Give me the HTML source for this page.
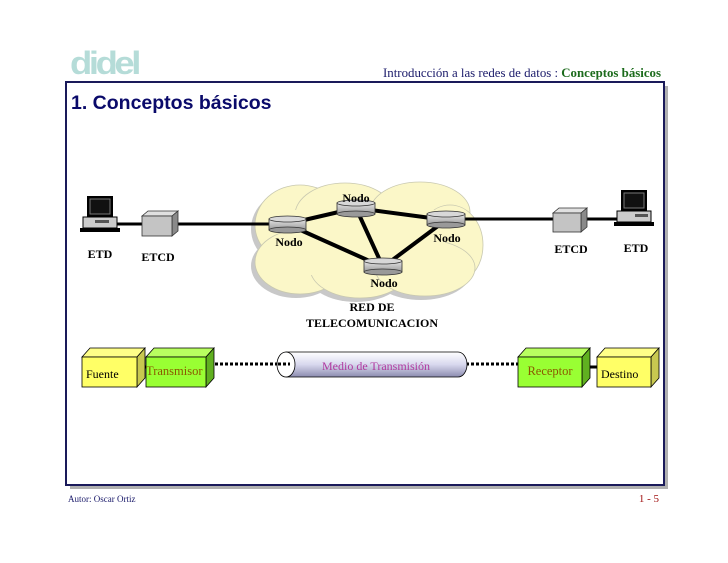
<!DOCTYPE html>
<html><head><meta charset="utf-8"><style>
html,body{margin:0;padding:0;background:#fff;}
svg{display:block;}
</style></head><body>
<svg width="728" height="563" viewBox="0 0 728 563" xmlns="http://www.w3.org/2000/svg">
<defs>
<linearGradient id="cyl" x1="0" y1="0" x2="0" y2="1"><stop offset="0" stop-color="#e6e6e6"/><stop offset="1" stop-color="#9a9a9a"/></linearGradient>
<linearGradient id="tube" x1="0" y1="0" x2="0" y2="1"><stop offset="0" stop-color="#ffffff"/><stop offset="0.5" stop-color="#d8d8ee"/><stop offset="1" stop-color="#8c8cb0"/></linearGradient>
</defs>
<text x="70" y="74" font-family="Liberation Sans, sans-serif" font-size="32" font-weight="bold" fill="#b5dcd8" letter-spacing="-3" textLength="68" lengthAdjust="spacingAndGlyphs">didel</text>
<text x="661" y="77" text-anchor="end" font-family="Liberation Serif, serif" font-size="12.5" fill="#1a1a6a" textLength="278" lengthAdjust="spacingAndGlyphs">Introducción a las redes de datos : <tspan fill="#1c6b1c" font-weight="bold">Conceptos básicos</tspan></text>
<rect x="70" y="86" width="598" height="403" fill="#b0b0b0"/>
<rect x="66" y="82" width="598" height="403" fill="#fff" stroke="#1a1a5a" stroke-width="2"/>
<text x="71" y="109" font-family="Liberation Sans, sans-serif" font-size="19.5" font-weight="bold" fill="#0a0a6a">1. Conceptos básicos</text>

<g fill="#c8c8c8" transform="translate(-4,4)">
<ellipse cx="300" cy="225" rx="45" ry="40"/><ellipse cx="345" cy="215" rx="50" ry="32"/><ellipse cx="420" cy="212" rx="50" ry="30"/><ellipse cx="450" cy="245" rx="33" ry="40"/><ellipse cx="300" cy="262" rx="45" ry="32"/><ellipse cx="360" cy="268" rx="50" ry="30"/><ellipse cx="425" cy="268" rx="50" ry="28"/><rect x="290" y="215" width="150" height="60"/>
</g>
<g fill="#fbf7c8" stroke="#c8c8b0" stroke-width="0.8">
<ellipse cx="300" cy="225" rx="45" ry="40"/><ellipse cx="345" cy="215" rx="50" ry="32"/><ellipse cx="420" cy="212" rx="50" ry="30"/><ellipse cx="450" cy="245" rx="33" ry="40"/><ellipse cx="300" cy="262" rx="45" ry="32"/><ellipse cx="360" cy="268" rx="50" ry="30"/><ellipse cx="425" cy="268" rx="50" ry="28"/>
</g>
<rect x="290" y="210" width="155" height="65" fill="#fbf7c8"/>

<line x1="100" y1="224" x2="287" y2="224" stroke="#000" stroke-width="3"/>
<line x1="446" y1="219" x2="630" y2="219" stroke="#000" stroke-width="3"/>
<g stroke="#000" stroke-width="4">
<line x1="287" y1="224" x2="356" y2="208"/>
<line x1="287" y1="224" x2="383" y2="267"/>
<line x1="356" y1="208" x2="446" y2="220"/>
<line x1="356" y1="208" x2="383" y2="267"/>
<line x1="383" y1="267" x2="446" y2="220"/>
</g>
<g stroke="#333" stroke-width="0.8">
<g><rect x="269" y="219" width="37" height="11" fill="url(#cyl)"/><ellipse cx="287.5" cy="230" rx="18.5" ry="3" fill="#999"/><ellipse cx="287.5" cy="219" rx="18.5" ry="3" fill="#d8d8d8"/></g>
<g><rect x="337" y="203" width="38" height="11" fill="url(#cyl)"/><ellipse cx="356" cy="214" rx="19" ry="3" fill="#999"/><ellipse cx="356" cy="203" rx="19" ry="3" fill="#d8d8d8"/></g>
<g><rect x="427" y="214" width="38" height="11" fill="url(#cyl)"/><ellipse cx="446" cy="225" rx="19" ry="3" fill="#999"/><ellipse cx="446" cy="214" rx="19" ry="3" fill="#d8d8d8"/></g>
<g><rect x="364" y="261" width="38" height="11" fill="url(#cyl)"/><ellipse cx="383" cy="272" rx="19" ry="3" fill="#999"/><ellipse cx="383" cy="261" rx="19" ry="3" fill="#d8d8d8"/></g>
</g>
<g font-family="Liberation Serif, serif" font-size="12" font-weight="bold" fill="#000" text-anchor="middle">
<text x="356" y="202">Nodo</text>
<text x="289" y="246">Nodo</text>
<text x="447" y="242">Nodo</text>
<text x="384" y="287">Nodo</text>
<text x="372" y="311">RED DE</text>
<text x="372" y="327">TELECOMUNICACION</text>
<text x="100" y="258">ETD</text>
<text x="158" y="261">ETCD</text>
<text x="571" y="253">ETCD</text>
<text x="636" y="252">ETD</text>
</g>

<g stroke="#333" stroke-width="0.8">
<polygon points="142,216 148,211 178,211 172,216" fill="#e0e0e0"/>
<polygon points="172,216 178,211 178,231 172,236" fill="#8a8a8a"/>
<rect x="142" y="216" width="30" height="20" fill="#c4c4c4"/>
<polygon points="553,213 559,208 587,208 581,213" fill="#e0e0e0"/>
<polygon points="581,213 587,208 587,227 581,232" fill="#8a8a8a"/>
<rect x="553" y="213" width="28" height="19" fill="#c4c4c4"/>
</g>

<g>
<rect x="87" y="196" width="26" height="21" fill="#000"/><rect x="90" y="199" width="20" height="15" fill="#111" stroke="#777" stroke-width="1"/>
<rect x="83" y="217" width="34" height="11" fill="#ccc" stroke="#000" stroke-width="1"/><rect x="95" y="220" width="14" height="3" fill="#555"/>
<rect x="80" y="228" width="40" height="4" fill="#000"/>
</g>
<g>
<rect x="621" y="190" width="26" height="21" fill="#000"/><rect x="624" y="193" width="20" height="15" fill="#111" stroke="#777" stroke-width="1"/>
<rect x="617" y="211" width="34" height="11" fill="#ccc" stroke="#000" stroke-width="1"/><rect x="635" y="214" width="13" height="3" fill="#555"/>
<rect x="614" y="222" width="40" height="4" fill="#000"/>
</g>

<line x1="137" y1="367" x2="146" y2="367" stroke="#000" stroke-width="3"/>
<line x1="584" y1="367" x2="597" y2="367" stroke="#000" stroke-width="3"/>
<line x1="210" y1="364" x2="284" y2="364" stroke="#000" stroke-width="3" stroke-dasharray="3,2"/>
<line x1="466" y1="364" x2="518" y2="364" stroke="#000" stroke-width="3" stroke-dasharray="3,2"/>
<g stroke="#000" stroke-width="0.8">
<polygon points="82,357 90,348 145,348 137,357" fill="#ffff88"/>
<polygon points="137,357 145,348 145,378 137,387" fill="#c8c850"/>
<rect x="82" y="357" width="55" height="30" fill="#ffff66"/>
<polygon points="146,357 154,348 214,348 206,357" fill="#b8ff60"/>
<polygon points="206,357 214,348 214,378 206,387" fill="#60b020"/>
<rect x="146" y="357" width="60" height="30" fill="#99ff33"/>
<polygon points="518,357 526,348 590,348 582,357" fill="#b8ff60"/>
<polygon points="582,357 590,348 590,378 582,387" fill="#60b020"/>
<rect x="518" y="357" width="64" height="30" fill="#99ff33"/>
<polygon points="597,357 605,348 659,348 651,357" fill="#ffff88"/>
<polygon points="651,357 659,348 659,378 651,387" fill="#c8c850"/>
<rect x="597" y="357" width="54" height="30" fill="#ffff66"/>
<path d="M286,352 L458,352 A9,12.5 0 0 1 458,377 L286,377 Z" fill="url(#tube)"/>
<ellipse cx="286" cy="364.5" rx="9" ry="12.5" fill="#fff"/>
</g>
<line x1="278" y1="364" x2="290" y2="364" stroke="#000" stroke-width="3" stroke-dasharray="3,2"/>
<g font-family="Liberation Serif, serif" font-size="12">
<text x="86" y="378" fill="#000">Fuente</text>
<text x="146" y="375" fill="#8a5a00" font-size="12.5">Transmisor</text>
<text x="376" y="370" fill="#b03aa0" text-anchor="middle">Medio de Transmisión</text>
<text x="550" y="375" fill="#8a5a00" text-anchor="middle" font-size="12.5">Receptor</text>
<text x="601" y="378" fill="#000">Destino</text>
</g>

<text x="68" y="502" font-family="Liberation Serif, serif" font-size="9" fill="#1a1a6a">Autor: Oscar Ortiz</text>
<text x="659" y="502" text-anchor="end" font-family="Liberation Serif, serif" font-size="11" fill="#a01010">1 - 5</text>
</svg>
</body></html>
